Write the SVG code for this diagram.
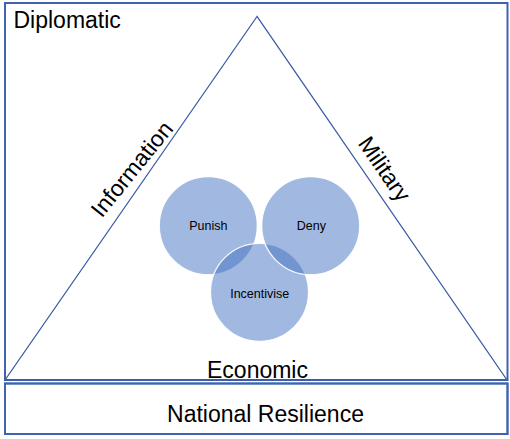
<svg xmlns="http://www.w3.org/2000/svg" width="510" height="439" viewBox="0 0 510 439">
<style>
.frame{fill:none;stroke:#3F63AC;stroke-width:2}
.frame2{fill:none;stroke:#5B82C8;stroke-width:2}
.tri{fill:none;stroke:#3A5DA6;stroke-width:1.3}
.big{font-family:"Liberation Sans",Arial,sans-serif;font-size:23px;fill:#000}
.circ{fill:#4472C4;fill-opacity:0.5;stroke:#ffffff;stroke-opacity:0.9;stroke-width:1.3}
.lbl{font-family:"Liberation Sans",Arial,sans-serif;font-size:12.5px;fill:#000;text-anchor:middle}
</style>
<rect width="510" height="439" fill="#ffffff"/>
<g id="frame">
<rect class="frame" x="5" y="3" width="502.5" height="377"/>
<rect class="frame2" x="5" y="383.5" width="502.5" height="50.5"/>
<rect class="frame" x="5" y="383.5" width="502.5" height="50.5" stroke-width="1.6"/>
</g>
<g id="connectors">
<polygon class="tri" points="257,16.5 5,380 507,380"/>
</g>
<g id="diplomatic"><text class="big" x="13.5" y="28">Diplomatic</text></g>
<g id="information"><text class="big" text-anchor="middle" transform="translate(138,174) rotate(-51)">Information</text></g>
<g id="military"><text class="big" text-anchor="middle" transform="translate(378,173.5) rotate(55.25)">Military</text></g>
<g id="economic"><text class="big" x="257.5" y="378" text-anchor="middle">Economic</text></g>
<g id="resilience"><text class="big" x="265.5" y="421.5" text-anchor="middle">National Resilience</text></g>
<g id="punish"><circle class="circ" cx="208.3" cy="225.7" r="49"/></g>
<g id="incentivise"><circle class="circ" cx="259.5" cy="292.3" r="49"/></g>
<g id="deny"><circle class="circ" cx="310.7" cy="225.7" r="49"/></g>
<g id="labels">
<text class="lbl" x="208.3" y="230">Punish</text>
<text class="lbl" x="311.3" y="230">Deny</text>
<text class="lbl" x="259.7" y="297.5">Incentivise</text>
</g>
</svg>
